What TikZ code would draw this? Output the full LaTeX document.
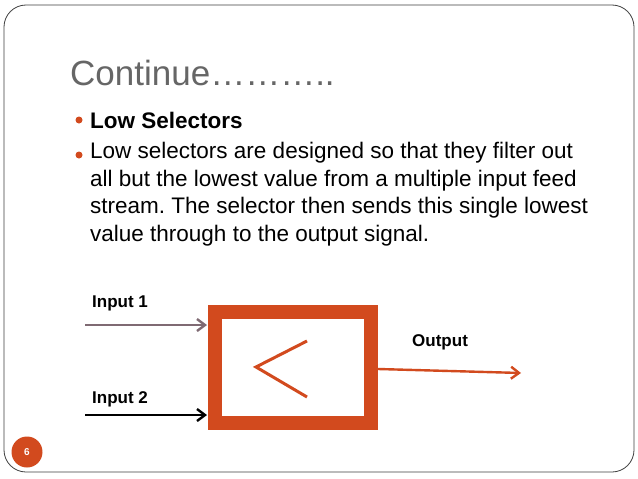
\documentclass[tikz,border=0pt]{standalone}
\usepackage{fontspec}
\setmainfont{Liberation Sans}
\usetikzlibrary{arrows.meta}
\definecolor{org}{HTML}{D24A1E}
\definecolor{ttl}{HTML}{666666}
\definecolor{in1}{HTML}{7F6A73}
\frenchspacing
\begin{document}
\begin{tikzpicture}[x=1pt,y=-1pt,
  lbl/.style={font=\bfseries\fontsize{17}{20}\selectfont,anchor=base west,inner sep=0},
  body/.style={font=\fontsize{22.5}{27.5}\selectfont,anchor=north west,inner sep=0,align=left},
  arr/.style={line width=2.4pt,-{Straight Barb[length=8pt,width=12pt]}}]
\useasboundingbox[fill=white] (0,0) rectangle (638,479);
\draw[line width=0.8pt,rounded corners=22pt,color=black!75] (4,5) rectangle (634,472);
\node[anchor=base west,inner sep=0,text=ttl,font=\fontsize{35}{40}\selectfont] (title) at (70,85) {Continue………..};
\fill[org] (79,120) circle (3.5);
\node[anchor=base west,inner sep=0,font=\bfseries\fontsize{22.5}{24}\selectfont] (b1) at (90,128) {Low Selectors};
\fill[org] (79,155) circle (3.5);
\node[body] (b2) at (90,142) {Low selectors are designed so that they filter out\\all but the lowest value from a multiple input feed\\stream. The selector then sends this single lowest\\value through to the output signal.};
\node[draw=org,line width=14pt,minimum width=156,minimum height=111,inner sep=0] (box) at (293,367.5) {};
\draw[org,line width=3pt] (307,341) -- (256,367) -- (307,397);
\coordinate (i1) at (85,325);
\coordinate (i2) at (85,415);
\coordinate (o) at (521,373);
\draw[arr,in1] (i1) -- (207,325);
\draw[arr,black] (i2) -- (207,415);
\draw[arr,org] (box.east |- 0,369) -- (o);
\node[lbl] (l1) at (92,307) {Input 1};
\node[lbl] (l2) at (92,403) {Input 2};
\node[lbl] (lo) at (412,346) {Output};
\node[circle,fill=org,minimum size=31,inner sep=0,text=white,font=\bfseries\fontsize{10}{12}\selectfont] (pg) at (27,452) {6};
\end{tikzpicture}
\end{document}
